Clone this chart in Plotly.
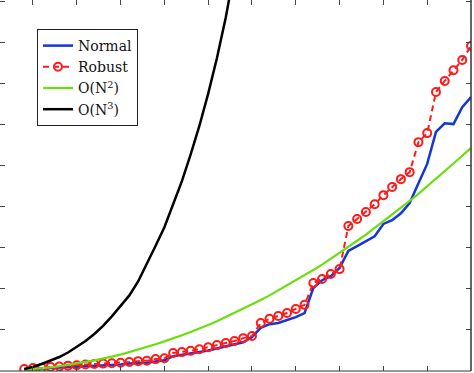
import plotly.graph_objects as go

# sample sizes N
n_vals = [8, 10, 12, 14, 16, 18, 20, 22, 24, 26, 28, 30, 32, 34, 36, 38, 40, 42, 44, 46,
          48, 50, 52, 54, 56, 58, 60, 62, 64, 66, 68, 70, 72, 74, 76, 78, 80, 82, 84, 86,
          88, 90, 92, 94, 96, 98, 100, 102, 104, 106, 108, 110]

normal_vals = [0.03, 0.05, 0.06, 0.07, 0.08, 0.10, 0.11, 0.12, 0.13, 0.14, 0.15, 0.16, 0.18,
               0.19, 0.20, 0.23, 0.26, 0.36, 0.39, 0.42, 0.46, 0.50, 0.55, 0.60, 0.65, 0.70,
               0.83, 1.05, 1.14, 1.17, 1.24, 1.31, 1.41, 2.02, 2.21, 2.31, 2.51, 2.92, 3.04,
               3.16, 3.28, 3.58, 3.67, 3.84, 4.09, 4.57, 5.04, 5.82, 6.03, 6.01, 6.42, 6.67]

robust_vals = [0.05, 0.07, 0.08, 0.10, 0.11, 0.13, 0.14, 0.16, 0.17, 0.18, 0.19, 0.20, 0.22,
               0.24, 0.25, 0.29, 0.31, 0.44, 0.46, 0.49, 0.53, 0.58, 0.63, 0.68, 0.73, 0.80,
               0.85, 1.17, 1.27, 1.34, 1.41, 1.51, 1.61, 2.14, 2.24, 2.36, 2.48, 3.53, 3.70,
               3.87, 4.06, 4.28, 4.48, 4.67, 4.84, 5.57, 5.79, 6.79, 7.06, 7.32, 7.57, 7.91]

quad_vals = [0.03, 0.045, 0.065, 0.09, 0.115, 0.145, 0.18, 0.22, 0.26, 0.30, 0.35, 0.40, 0.46,
             0.52, 0.58, 0.65, 0.72, 0.79, 0.87, 0.95, 1.03, 1.12, 1.21, 1.31, 1.41, 1.51,
             1.62, 1.73, 1.84, 1.96, 2.08, 2.20, 2.33, 2.46, 2.59, 2.73, 2.87, 3.02, 3.17,
             3.32, 3.48, 3.64, 3.80, 3.97, 4.14, 4.31, 4.49, 4.67, 4.86, 5.05, 5.24, 5.43]

cubic_n = [8, 10, 12, 14, 16, 18, 20, 22, 24, 26, 28, 30, 32, 34, 36, 38, 40, 42, 44, 46,
           48, 50, 52, 54, 56, 58]
cubic_vals = [0.05, 0.10, 0.17, 0.25, 0.34, 0.45, 0.58, 0.73, 0.90, 1.10, 1.33, 1.58, 1.84,
              2.18, 2.60, 3.05, 3.50, 4.05, 4.62, 5.27, 5.97, 6.75, 7.62, 8.60, 9.70, 10.9]

x_ticks = [10, 20, 30, 40, 50, 60, 70, 80, 90, 100, 110]
y_ticks = [0, 1, 2, 3, 4, 5, 6, 7, 8, 9]

fig = go.Figure()
fig.add_trace(go.Scatter(x=n_vals, y=normal_vals, mode="lines", name="Normal",
                         line=dict(color="#1236d8", width=2.5)))
fig.add_trace(go.Scatter(x=n_vals, y=robust_vals, mode="lines+markers", name="Robust",
                         line=dict(color="#ff1a1a", width=2, dash="6px,4px"),
                         marker=dict(symbol="circle-open", size=8, color="#ff1a1a",
                                     line=dict(width=2, color="#ff1a1a"))))
fig.add_trace(go.Scatter(x=n_vals, y=quad_vals, mode="lines", name="O(N<sup>2</sup>)",
                         line=dict(color="#6cde10", width=2.2)))
fig.add_trace(go.Scatter(x=cubic_n, y=cubic_vals, mode="lines", name="O(N<sup>3</sup>)",
                         line=dict(color="#000000", width=2.5)))

axis_common = dict(showgrid=False, zeroline=False, showticklabels=False,
                   ticks="inside", ticklen=5, tickcolor="#444", tickwidth=1,
                   showline=False, mirror="ticks")

fig.update_layout(
    width=474, height=373,
    margin=dict(l=0, r=3, t=0, b=2),
    plot_bgcolor="white", paper_bgcolor="white",
    xaxis=dict(range=[2.47, 110], tickvals=x_ticks, **axis_common),
    yaxis=dict(range=[0, 9.03], tickvals=y_ticks, **axis_common),
    showlegend=True,
    legend=dict(x=37 / 471, y=1 - 29 / 371, xanchor="left", yanchor="top",
                bgcolor="white", bordercolor="#222", borderwidth=1,
                font=dict(family="DejaVu Serif", size=14, color="#111"),
                itemwidth=30, tracegroupgap=0),
    shapes=[
        dict(type="line", xref="paper", yref="paper", x0=0, x1=1, y0=0, y1=0,
             line=dict(color="#333", width=1)),
        dict(type="line", xref="paper", yref="paper", x0=1, x1=1, y0=0, y1=1,
             line=dict(color="#333", width=1.5)),
    ],
)

fig.write_html("out.html", post_script="document.body.style.margin='0';",
               config={"displayModeBar": False})
